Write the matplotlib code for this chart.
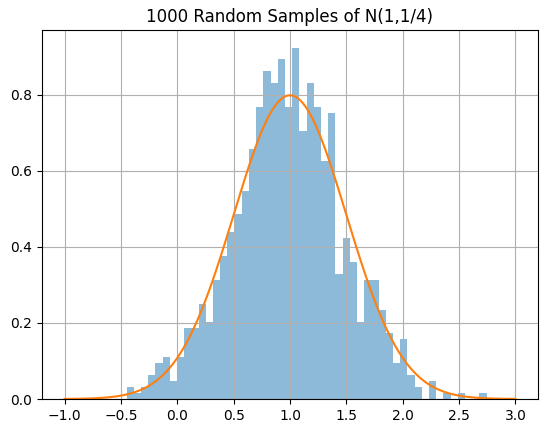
import matplotlib
matplotlib.use("Agg")
import matplotlib.pyplot as plt
import numpy as np

# histogram: 50 bins between the sample min and max
n_samples = 1000
x_lo, x_hi = -0.45, 2.745
counts = [2, 1, 2, 4, 6, 7, 3, 7, 12, 12,
          16, 13, 20, 24, 28, 31, 35, 42, 49, 55,
          53, 57, 49, 59, 45, 53, 49, 40, 48, 21,
          27, 23, 13, 20, 20, 15, 11, 6, 10, 4,
          2, 0, 3, 0, 1, 0, 1, 0, 0, 1]

mu, var = 1.0, 0.25

edges = np.linspace(x_lo, x_hi, len(counts) + 1)
centers = (edges[:-1] + edges[1:]) / 2

fig = plt.figure(figsize=(5.47, 4.33), dpi=100)
ax = fig.add_axes([0.0768, 0.0785, 0.9067, 0.8522])

ax.hist(centers, bins=edges, weights=counts, density=True, alpha=0.5)

x = np.linspace(-1, 3, 400)
pdf = np.exp(-(x - mu) ** 2 / (2 * var)) / np.sqrt(2 * np.pi * var)
ax.plot(x, pdf)

ax.set_title("1000 Random Samples of N(1,1/4)")
ax.grid()

fig.savefig("out.png", dpi=100)
